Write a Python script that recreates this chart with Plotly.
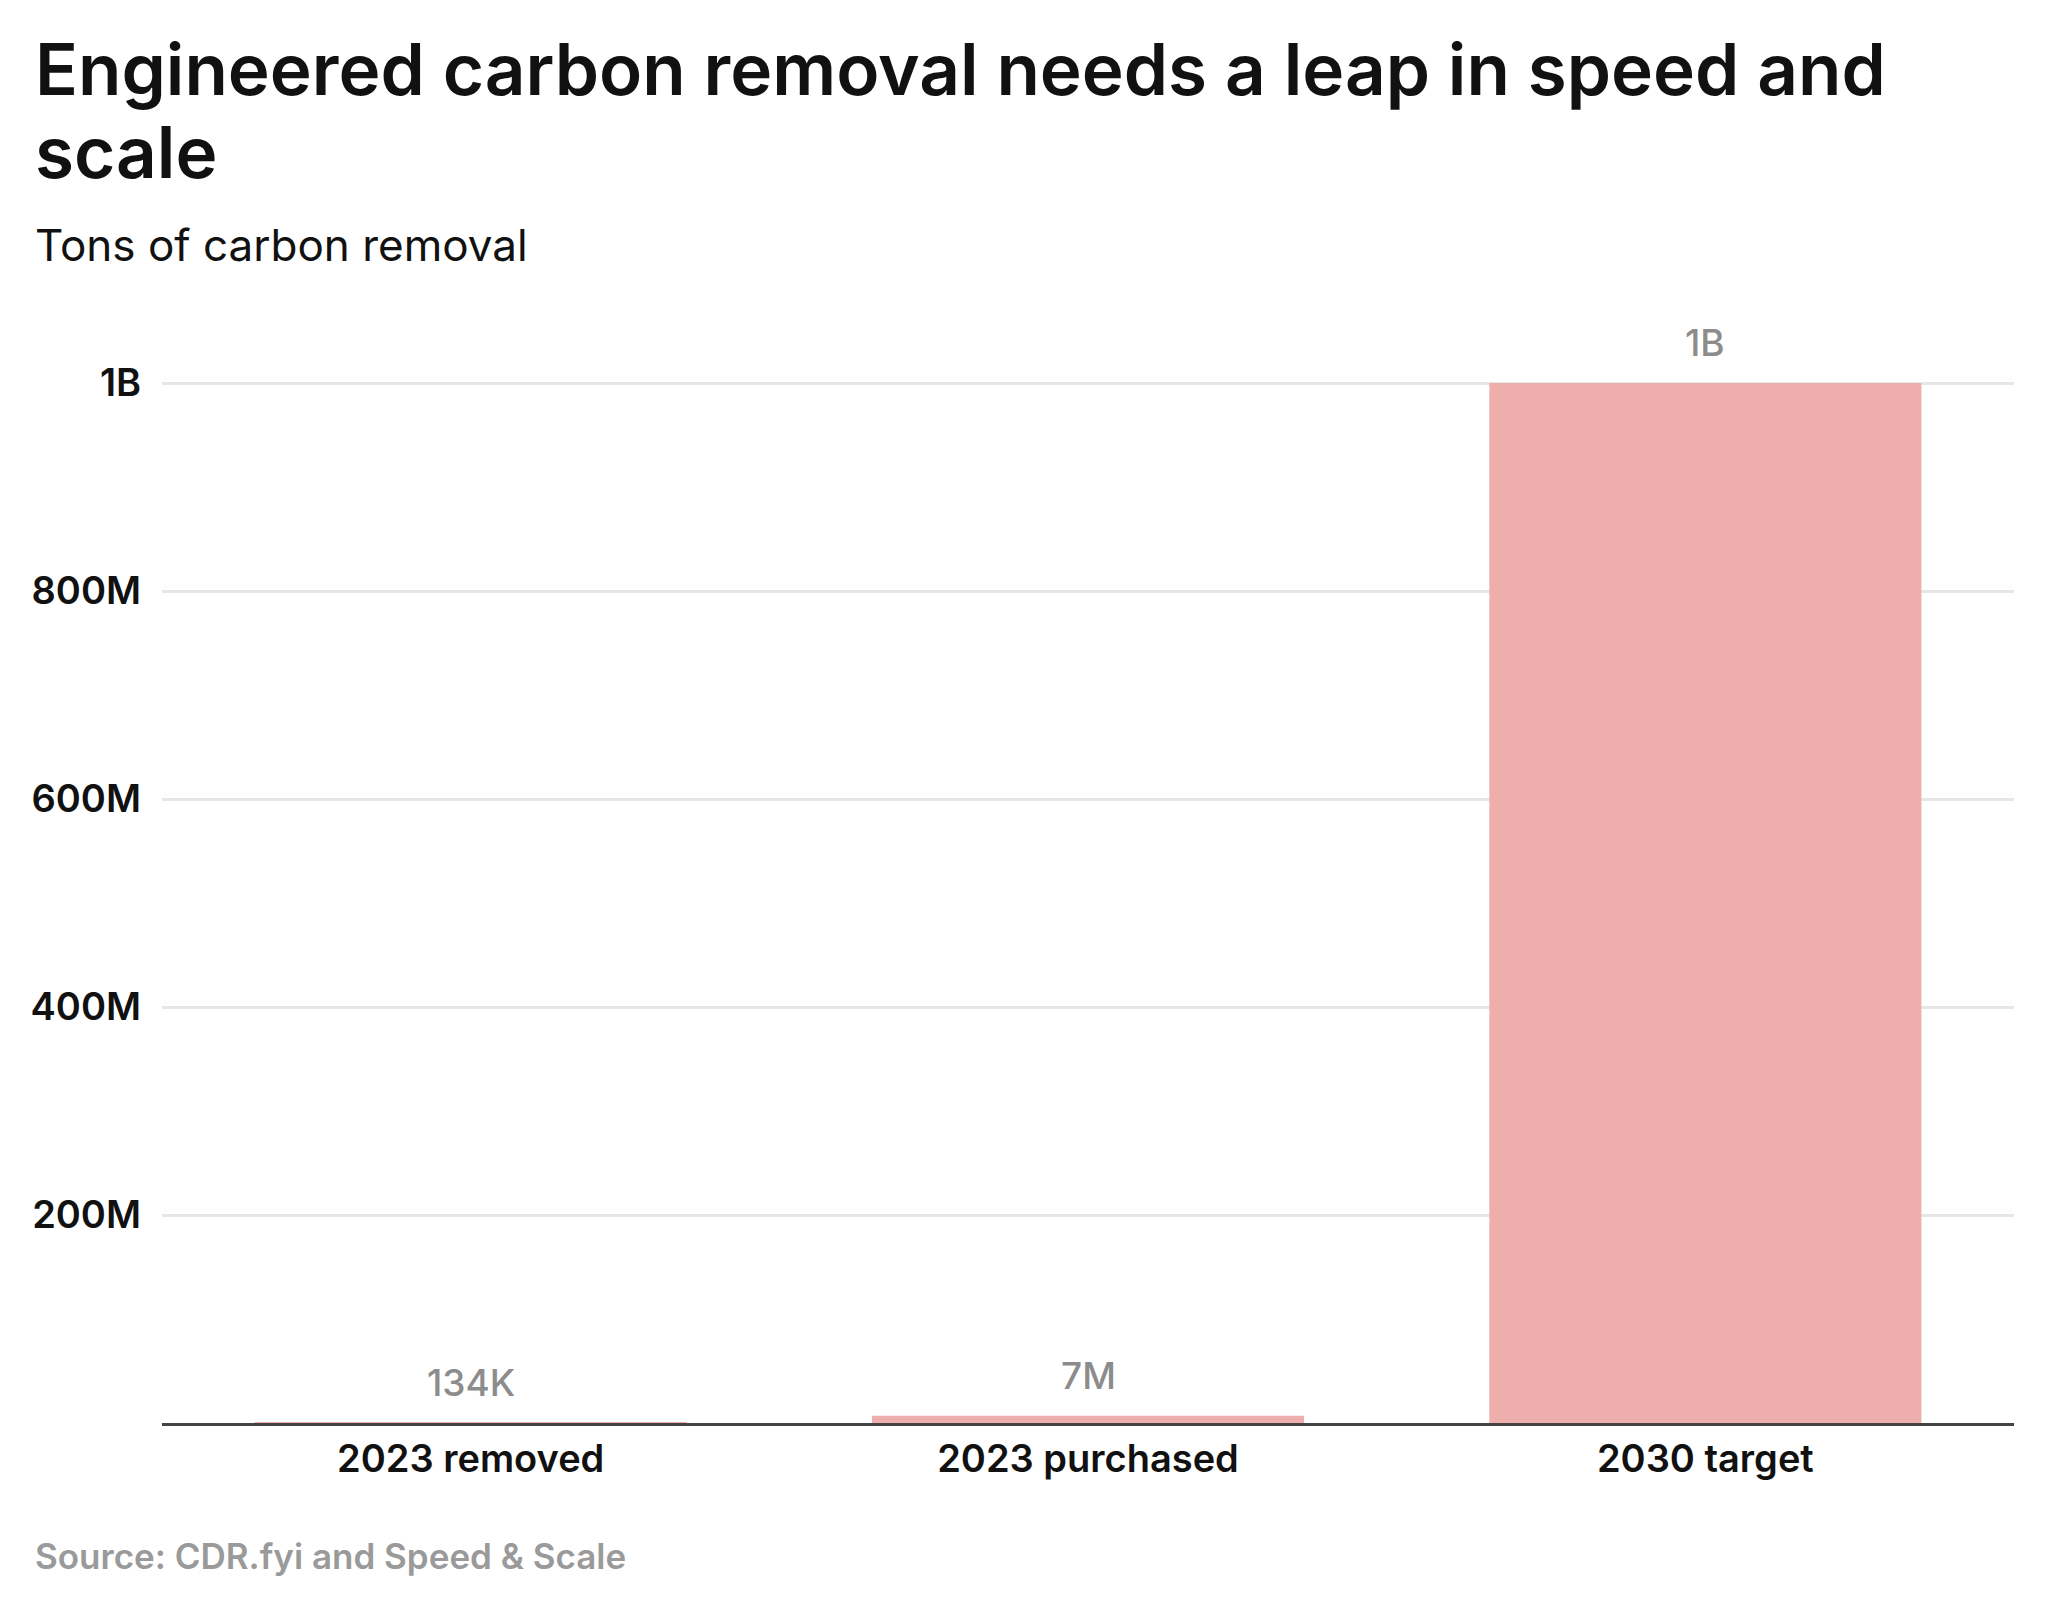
import plotly.graph_objects as go

categories = ["2023 removed", "2023 purchased", "2030 target"]
values = [134000, 7000000, 1000000000]
value_labels = ["134K", "7M", "1B"]
tick_vals = [200e6, 400e6, 600e6, 800e6, 1e9]
tick_text = ["200M", "400M", "600M", "800M", "1B"]

title_lines = ["Engineered carbon removal needs a leap in speed and", "scale"]
subtitle_text = "Tons of carbon removal"
source_text = "Source: CDR.fyi and Speed & Scale"

FONT = "Inter"
W, H = 2048, 1613
L, R, T, B = 162, 34, 380, 190
PW, PH = W - L - R, H - T - B
X0 = (33 - L) / PW


def py(ypix):
    return (H - B - ypix) / PH


fig = go.Figure()
fig.add_trace(go.Bar(
    x=categories, y=values,
    marker=dict(color="#eeaeac", line=dict(width=0)),
    hoverinfo="skip",
))

for c, v, t in zip(categories, values, value_labels):
    fig.add_annotation(x=c, y=v, xref="x", yref="y", text=t, showarrow=False,
                       yanchor="bottom", yshift=16,
                       font=dict(family=FONT, size=37, color="#8c8c8c", weight=500))

for line, ypix in zip(title_lines, [69, 152]):
    fig.add_annotation(xref="paper", yref="paper", x=X0, y=py(ypix),
                       xanchor="left", yanchor="middle", align="left", showarrow=False,
                       text=line,
                       font=dict(family=FONT, size=71, color="#111111", weight=600))
fig.add_annotation(xref="paper", yref="paper", x=X0, y=py(245),
                   xanchor="left", yanchor="middle", align="left", showarrow=False,
                   text=subtitle_text,
                   font=dict(family=FONT, size=44, color="#111111", weight=400))
fig.add_annotation(xref="paper", yref="paper", x=X0, y=py(1533),
                   xanchor="left", yanchor="top", align="left", showarrow=False,
                   text=source_text,
                   font=dict(family=FONT, size=35, color="#9a9a9a", weight=600))

fig.update_layout(
    width=W, height=H,
    margin=dict(l=L, r=R, t=T, b=B),
    paper_bgcolor="white", plot_bgcolor="white",
    bargap=0.3,
    showlegend=False,
    font=dict(family=FONT),
    xaxis=dict(showline=True, linecolor="#444444", linewidth=3, ticks="",
               tickfont=dict(family=FONT, size=38, color="#111111", weight=600),
               showgrid=False),
    yaxis=dict(range=[0, 1.003e9], tickvals=tick_vals, ticktext=tick_text,
               showgrid=True, gridcolor="#e6e6e6", gridwidth=3,
               zeroline=False, ticks="", ticklabelstandoff=20,
               tickfont=dict(family=FONT, size=38, color="#111111", weight=600)),
)

fig.write_html("out.html")
